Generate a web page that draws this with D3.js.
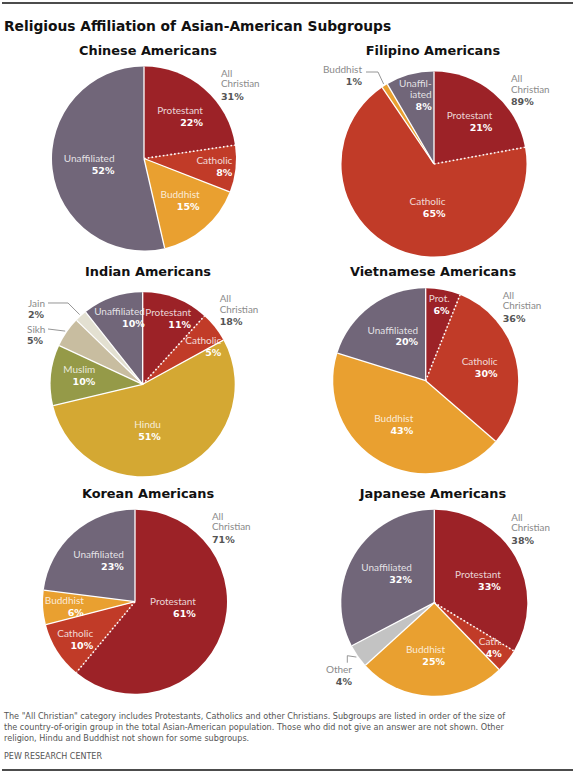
<!DOCTYPE html>
<html>
<head>
<meta charset="utf-8">
<script src="https://cdn.jsdelivr.net/npm/d3@7"></script>
<style>
	body { margin: 0; background: #fff; }
	svg { display: block; }
</style>
</head>
<body>
<div id="chart"></div>
<script>
(function () {
	// data
	var title = 'Religious Affiliation of Asian-American Subgroups';
	var groups = ['Chinese Americans', 'Filipino Americans', 'Indian Americans',
		'Vietnamese Americans', 'Korean Americans', 'Japanese Americans'];
	var allChristian = [31, 89, 18, 36, 71, 38];

	var chineseCats = ['Protestant', 'Catholic', 'Buddhist', 'Unaffiliated'];
	var chineseVals = [22, 8, 15, 52];
	var filipinoCats = ['Protestant', 'Catholic', 'Buddhist', 'Unaffiliated'];
	var filipinoVals = [21, 65, 1, 8];
	var indianCats = ['Protestant', 'Catholic', 'Hindu', 'Muslim', 'Sikh', 'Jain', 'Unaffiliated'];
	var indianVals = [11, 5, 51, 10, 5, 2, 10];
	var vietnameseCats = ['Protestant', 'Catholic', 'Buddhist', 'Unaffiliated'];
	var vietnameseVals = [6, 30, 43, 20];
	var koreanCats = ['Protestant', 'Catholic', 'Buddhist', 'Unaffiliated'];
	var koreanVals = [61, 10, 6, 23];
	var japaneseCats = ['Protestant', 'Catholic', 'Buddhist', 'Other', 'Unaffiliated'];
	var japaneseVals = [33, 4, 25, 4, 32];

	var religions = ['Protestant', 'Catholic', 'Buddhist', 'Hindu', 'Muslim', 'Sikh', 'Jain', 'Other', 'Unaffiliated'];
	var religionColors = ['#9c2227', '#c13b28', '#e9a030', '#d4a833', '#959a48', '#c8bda0', '#e3e0d1', '#c3c3c3', '#716679'];

	// short forms used inside the slices ('|' = line break)
	var shortLabels = {
		'Vietnamese Americans|Protestant': 'Prot.',
		'Japanese Americans|Catholic': 'Cath.',
		'Filipino Americans|Unaffiliated': 'Unaffil-|iated'
	};

	var footnote = [
		'The "All Christian" category includes Protestants, Catholics and other Christians. Subgroups are listed in order of the size of',
		'the country-of-origin group in the total Asian-American population. Those who did not give an answer are not shown. Other',
		'religion, Hindu and Buddhist not shown for some subgroups.'
	];
	var source = 'PEW RESEARCH CENTER';

	var groupCats = [chineseCats, filipinoCats, indianCats, vietnameseCats, koreanCats, japaneseCats];
	var groupVals = [chineseVals, filipinoVals, indianVals, vietnameseVals, koreanVals, japaneseVals];

	///////////////////////////////////////////////////////////////////////////
	////////// layout ////////////////////////////////////////////////////////
	///////////////////////////////////////////////////////////////////////////
	var width = 575, height = 774;
	var panels = [
		{tx: 148, ty: 55, cx: 144, cy: 158.5, r: 92},
		{tx: 433, ty: 55, cx: 434, cy: 164, r: 92.5},
		{tx: 148, ty: 275.5, cx: 142.7, cy: 384.3, r: 92},
		{tx: 433, ty: 275.5, cx: 425.7, cy: 380.7, r: 92.5},
		{tx: 148, ty: 497.5, cx: 135, cy: 601.7, r: 92},
		{tx: 433, ty: 497.5, cx: 434.3, cy: 602.7, r: 93}
	];
	// hand nudges of label blocks, like the original
	var labelNudge = {
		'Filipino Americans|Catholic': [15, -8],
		'Indian Americans|Hindu': [-15, -5],
		'Indian Americans|Muslim': [7, -2],
		'Indian Americans|Catholic': [5, 6],
		'Korean Americans|Protestant': [-14, -13],
		'Japanese Americans|Buddhist': [-7, -3],
		'Japanese Americans|Protestant': [-5, 5],
		'Vietnamese Americans|Protestant': [0, -6],
		'Vietnamese Americans|Buddhist': [-5, -5]
	};
	// labels drawn outside the pie with a leader line
	var outside = {
		'Filipino Americans|Buddhist': {x: -72, y: -91, anchor: 'end', lead: [[-68, -92], [-56, -92]]},
		'Indian Americans|Jain': {x: -114.7, y: -77.8, anchor: 'start', lead: [[-94.7, -81.3], [-74.7, -81.3]]},
		'Indian Americans|Sikh': {x: -115.7, y: -51.8, anchor: 'start', lead: [[-94.7, -55.3], [-94.7, -55.3]]},
		'Japanese Americans|Other': {x: -82.3, y: 70.1, anchor: 'end', lead: [[-87, 60], [-87, 53]]}
	};

	var nameFont = 'Lato, "Liberation Sans", sans-serif';
	var boldFont = '"DejaVu Sans", Verdana, sans-serif';

	var color = d3.scaleOrdinal().domain(religions).range(religionColors);
	var pie = d3.pie().sort(null).value(d => d.value);
	var arc = d3.arc().innerRadius(0);

	var svg = d3.select('#chart').append('svg')
		.attr('width', width).attr('height', height);

	svg.append('line').attr('x1', 2).attr('x2', 573).attr('y1', 3).attr('y2', 3)
		.attr('stroke', '#111').attr('stroke-width', 1.5);
	svg.append('line').attr('x1', 2).attr('x2', 573).attr('y1', 770).attr('y2', 770)
		.attr('stroke', '#111').attr('stroke-width', 1.5);

	svg.append('text')
		.attr('x', 4).attr('y', 31)
		.attr('font-family', boldFont).attr('font-weight', 'bold')
		.attr('font-size', 13.8).attr('fill', '#111')
		.text(title);

	groups.forEach((name, i) => {
		var p = panels[i];
		var data = groupCats[i].map((c, j) => ({cat: c, value: groupVals[i][j]}));
		var total = d3.sum(data, d => d.value);
		var arcs = pie(data);
		arc.outerRadius(p.r);

		svg.append('text')
			.attr('x', p.tx).attr('y', p.ty)
			.attr('text-anchor', 'middle')
			.attr('font-family', boldFont).attr('font-weight', 'bold')
			.attr('font-size', 12.9).attr('fill', '#111')
			.text(name);

		var g = svg.append('g').attr('transform', 'translate(' + [p.cx, p.cy] + ')');

		g.selectAll('path').data(arcs).enter().append('path')
			.attr('d', arc)
			.attr('fill', d => color(d.data.cat));

		// white separators, dotted between Protestant and Catholic
		arcs.forEach((a, j) => {
			var next = arcs[(j + 1) % arcs.length];
			var dotted = a.data.cat === 'Protestant' && next.data.cat === 'Catholic';
			g.append('line')
				.attr('x1', 0).attr('y1', 0)
				.attr('x2', p.r * Math.sin(a.endAngle))
				.attr('y2', -p.r * Math.cos(a.endAngle))
				.attr('stroke', '#fff')
				.attr('stroke-width', dotted ? 1.6 : 1.3)
				.attr('stroke-dasharray', dotted ? '1.6,2.2' : null);
		});

		// slice labels
		arcs.forEach(a => {
			var key = name + '|' + a.data.cat;
			var mid = (a.startAngle + a.endAngle) / 2;
			var o = outside[key];
			if (o) {
				var edge = [(p.r + 2) * Math.sin(mid), -(p.r + 2) * Math.cos(mid)];
				g.append('polyline')
					.attr('points', [o.lead[0], o.lead[1], edge].map(pt => pt.join(',')).join(' '))
					.attr('fill', 'none').attr('stroke', '#8a8a8a').attr('stroke-width', 0.9);
				g.append('text')
					.attr('x', o.x).attr('y', o.y).attr('text-anchor', o.anchor)
					.attr('font-family', nameFont).attr('font-size', 10).attr('fill', '#8a8a8a')
					.text(a.data.cat);
				g.append('text')
					.attr('x', o.x).attr('y', o.y + 11.8).attr('text-anchor', o.anchor)
					.attr('font-family', boldFont).attr('font-weight', 'bold')
					.attr('font-size', 9.5).attr('fill', '#555')
					.text(a.data.value + '%');
				return;
			}
			var share = a.data.value / total;
			var k = share < 0.12 ? 0.77 : 0.6;
			var nudge = labelNudge[key] || [0, 0];
			var ax = k * p.r * Math.sin(mid) + nudge[0];
			var ay = -k * p.r * Math.cos(mid) + nudge[1];
			var lines = (shortLabels[key] || a.data.cat).split('|');

			var block = g.append('g');
			var texts = lines.map(l => block.append('text')
				.attr('font-family', nameFont).attr('font-size', 10)
				.attr('fill', '#fff').attr('fill-opacity', 0.82)
				.attr('text-anchor', 'end')
				.text(l));
			var val = block.append('text')
				.attr('font-family', boldFont).attr('font-weight', 'bold')
				.attr('font-size', 9.5).attr('fill', '#fff')
				.attr('text-anchor', 'end')
				.text(a.data.value + '%');
			var w = d3.max(texts.concat([val]), t => t.node().getComputedTextLength());
			var blockH = 7 + (lines.length - 1) * 11 + 11.8;
			var right = ax + w / 2;
			var y0 = ay - blockH / 2 + 7;
			texts.forEach((t, j) => t.attr('x', right).attr('y', y0 + j * 11));
			val.attr('x', right).attr('y', y0 + (lines.length - 1) * 11 + 11.8);
		});

		// All Christian total
		var ac = svg.append('g').attr('transform', 'translate(' + [p.cx + 77, p.cy - 82] + ')');
		ac.append('text').attr('y', 0).text('All');
		ac.append('text').attr('y', 10.5).text('Christian');
		ac.selectAll('text')
			.attr('font-family', nameFont).attr('font-size', 9.8).attr('fill', '#8a8a8a');
		ac.append('text').attr('y', 23.2)
			.attr('font-family', boldFont).attr('font-weight', 'bold')
			.attr('font-size', 9.5).attr('fill', '#555')
			.text(allChristian[i] + '%');
	});

	// footnote and source
	svg.selectAll('text.note').data(footnote).enter().append('text')
		.attr('class', 'note')
		.attr('x', 4).attr('y', (d, i) => 719 + i * 10.8)
		.attr('font-family', boldFont).attr('font-size', 8.1)
		.attr('fill', '#555')
		.text(d => d);
	svg.append('text')
		.attr('x', 4).attr('y', 759)
		.attr('font-family', boldFont).attr('font-size', 8).attr('fill', '#555')
		.text(source);
})();
</script>
</body>
</html>
